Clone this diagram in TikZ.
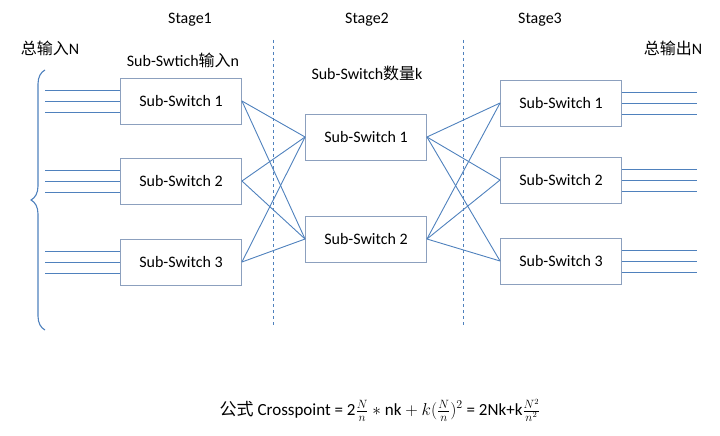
\documentclass[tikz,border=0pt]{standalone}
\usepackage{fontspec}
\setmainfont{Carlito}
\newfontfamily\cjk{Noto Sans CJK SC}
\usetikzlibrary{decorations.pathreplacing}
\definecolor{wire}{RGB}{79,129,189}
\definecolor{frame}{RGB}{140,160,190}
\tikzset{
  sw/.style = {draw = frame, line width = 0.9pt, minimum width = 121pt, minimum height = 46pt, inner sep = 0pt, font = \fontsize{16}{19}\selectfont},
  lbl/.style = {font = \fontsize{16}{19}\selectfont},
  link/.style = {color = wire, line width = 0.9pt}
}
\begin{document}
\begin{tikzpicture}[x = 1pt, y = -1pt]
\useasboundingbox (0, 0) rectangle (720, 436);
% stage labels
\node[lbl] (st1) at (190, 20) {Stage1};
\node[lbl] (st2) at (367, 20) {Stage2};
\node[lbl] (st3) at (540, 20) {Stage3};
\node[lbl] (inN) at (50, 48) {{\cjk 总输入}N};
\node[lbl] (inn) at (183, 60) {Sub-Swtich{\cjk 输入}n};
\node[lbl] (numk) at (367, 73) {Sub-Switch{\cjk 数量}k};
\node[lbl] (outN) at (673, 48) {{\cjk 总输出}N};
\draw[dashed, color = wire, line width = 1pt] (273, 40) to (273, 326);
\draw[dashed, color = wire, line width = 1pt] (463, 40) to (463, 326);
% switches
\node[sw] (a1) at (181, 101) {Sub-Switch 1};
\node[sw] (a2) at (181, 181) {Sub-Switch 2};
\node[sw] (a3) at (181, 262) {Sub-Switch 3};
\node[sw] (b1) at (366, 137) {Sub-Switch 1};
\node[sw] (b2) at (366, 239) {Sub-Switch 2};
\node[sw] (c1) at (561, 103) {Sub-Switch 1};
\node[sw] (c2) at (561, 180) {Sub-Switch 2};
\node[sw] (c3) at (561, 261) {Sub-Switch 3};
% input and output wires
\foreach \n in {a1, a2, a3}
  \foreach \dy in {-11, 0, 11}
    \draw[link] ([yshift = \dy] \n.west) to ++(-75, 0);
\foreach \n in {c1, c2, c3}
  \foreach \dy in {-11, 0, 11}
    \draw[link] ([yshift = \dy] \n.east) to ++(75, 0);
% crossbar links
\foreach \a in {a1, a2, a3}
  \foreach \b in {b1, b2}
    \draw[link] (\a.east) to (\b.west);
\foreach \b in {b1, b2}
  \foreach \c in {c1, c2, c3}
    \draw[link] (\b.east) to (\c.west);
\draw[link, line width = 1.1pt, decorate, decoration = {brace, amplitude = 14pt}] (45, 330) to (45, 70);
% formula
\node[font = \fontsize{17}{20}\selectfont, inner sep = 1pt] (eq) at (380, 410) {{\cjk 公式} Crosspoint = 2$\frac{N}{n}*\mathrm{nk}+k(\frac{N}{n})^2$ = 2Nk+k$\frac{N^2}{n^2}$};
\end{tikzpicture}
\end{document}
